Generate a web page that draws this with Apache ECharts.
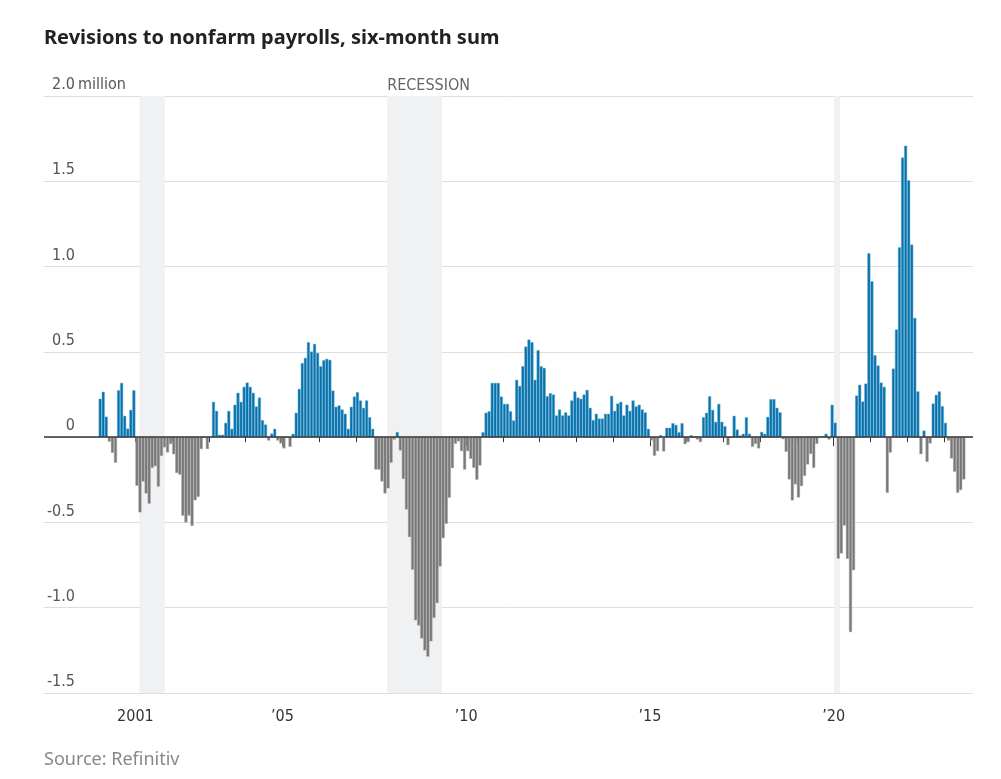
<!DOCTYPE html>
<html>
<head>
<meta charset="utf-8">
<script src="https://cdn.jsdelivr.net/npm/echarts@6/dist/echarts.min.js"></script>
<style>
html, body { margin: 0; padding: 0; background: #fff; }
#chart { width: 1001px; height: 779px; }
</style>
</head>
<body>
<div id="chart"></div>
<script>
// 数据：从 2000 年 1 月开始的月度值（百万）
var startYear = 2000;
var revisions = [
    0.225, 0.266, 0.12, -0.027, -0.092, -0.15, 0.275, 0.318, 0.125, 0.05, 0.16, 0.275,
    -0.285, -0.441, -0.26, -0.33, -0.39, -0.18, -0.17, -0.29, -0.11, -0.06, -0.09, -0.04,
    -0.1, -0.21, -0.22, -0.46, -0.50, -0.46, -0.52, -0.37, -0.35, -0.07, 0, -0.07,
    0, 0.207, 0.154, 0.014, 0.014, 0.084, 0.154, 0.049, 0.19, 0.26, 0.207, 0.295,
    0.32, 0.295, 0.26, 0.18, 0.232, 0.10, 0.074, -0.02, 0.021, 0.049, -0.02, -0.037,
    -0.066, 0, -0.057, 0.02, 0.143, 0.283, 0.434, 0.465, 0.557, 0.502, 0.547, 0.494,
    0.416, 0.451, 0.459, 0.453, 0.273, 0.178, 0.186, 0.162, 0.137, 0.049, 0.178, 0.238,
    0.264, 0.215, 0.172, 0.215, 0.117, 0.049, -0.19, -0.19, -0.26, -0.33, -0.30, -0.15,
    -0.014, 0.03, -0.078, -0.245, -0.424, -0.586, -0.777, -1.074, -1.104, -1.18, -1.25, -1.287,
    -1.197, -1.06, -0.973, -0.758, -0.592, -0.508, -0.355, -0.182, -0.039, -0.025, -0.082, -0.19,
    -0.082, -0.127, -0.18, -0.25, -0.166, 0.029, 0.143, 0.152, 0.318, 0.318, 0.318, 0.238,
    0.195, 0.195, 0.152, 0.098, 0.336, 0.30, 0.416, 0.531, 0.572, 0.557, 0.336, 0.51,
    0.416, 0.406, 0.24, 0.258, 0.25, 0.127, 0.162, 0.127, 0.145, 0.127, 0.215, 0.268,
    0.232, 0.225, 0.25, 0.277, 0.172, 0.10, 0.137, 0.109, 0.109, 0.137, 0.137, 0.242,
    0.154, 0.197, 0.207, 0.127, 0.19, 0.154, 0.215, 0.18, 0.19, 0.162, 0.145, 0.049,
    -0.02, -0.109, -0.082, 0.012, -0.084, 0.055, 0.055, 0.082, 0.072, 0.029, 0.082, -0.041,
    -0.029, 0.012, 0, -0.014, -0.029, 0.117, 0.143, 0.24, 0.16, 0.09, 0.195, 0.09,
    0.064, -0.047, 0, 0.125, 0.045, 0.01, 0.02, 0.117, 0.02, -0.057, -0.04, -0.066,
    0.031, 0.02, 0.119, 0.223, 0.223, 0.172, 0.146, -0.012, -0.086, -0.248, -0.371, -0.277,
    -0.354, -0.287, -0.227, -0.16, -0.098, -0.18, -0.039, 0, 0.005, 0.02, -0.014, 0.19,
    0.085, -0.713, -0.682, -0.518, -0.713, -1.143, -0.78, 0.244, 0.307, 0.209, 0.314, 1.078,
    0.914, 0.48, 0.42, 0.32, 0.295, -0.326, -0.09, 0.402, 0.631, 1.113, 1.639, 1.709,
    1.506, 1.129, 0.699, 0.268, -0.10, 0.039, -0.145, -0.037, 0.197, 0.248, 0.268, 0.182,
    0.084, -0.02, -0.125, -0.203, -0.326, -0.31, -0.248
];

// 衰退期（以 2000 年 1 月起的月份计）
var recessions = [
    [13.3, 21.6, ''],
    [94.2, 112.1, 'RECESSION'],
    [240.1, 242.1, '']
];

// 年份刻度
var tickYears = [];
for (var y = 2001; y <= 2023; y++) tickYears.push(y);
var majorYears = [2005, 2010, 2015, 2020];
var labelYears = {2001: '2001', 2005: '\u201905', 2010: '\u201910', 2015: '\u201915', 2020: '\u201920'};

var yTickText = {'-1.5': '-1.5', '-1': '-1.0', '-0.5': '-0.5', '0': '0', '0.5': '0.5', '1': '1.0', '1.5': '1.5', '2': '2.0'};

function monthOf (year) {
    return (year - startYear) * 12;
}

var narrowFont = '"Liberation Sans Narrow", "DejaVu Sans Condensed", "Roboto Condensed", sans-serif';

var barData = revisions.map(function (v, i) {
    var pos = v >= 0;
    return {
        value: [i + 0.5, v],
        itemStyle: {
            color: pos ? '#0672ac' : '#777777',
            borderColor: pos ? '#6fb0d6' : '#ababab',
            borderWidth: 0.5
        }
    };
});

var areaData = recessions.map(function (r) {
    return [
        {
            xAxis: r[0],
            label: {
                show: !!r[2],
                formatter: r[2],
                position: [0, -18],
                color: '#666',
                fontSize: 16,
                fontFamily: narrowFont
            }
        },
        {xAxis: r[1]}
    ];
});

var option = {
    animation: false,
    backgroundColor: '#fff',
    title: [
        {
            text: 'Revisions to nonfarm payrolls, six-month sum',
            left: 44,
            top: 28,
            padding: 0,
            textStyle: {fontFamily: '"Noto Sans", sans-serif', fontSize: 20, fontWeight: 'bold', color: '#222'}
        },
        {
            text: 'Source: Refinitiv',
            left: 44,
            top: 751,
            padding: 0,
            textStyle: {fontFamily: '"Noto Sans", sans-serif', fontSize: 18, fontWeight: 'normal', color: '#888'}
        }
    ],
    grid: {left: 44, right: 28, top: 96, bottom: 86},
    xAxis: [
        {
            type: 'value',
            min: -17.845,
            max: 285.5,
            position: 'bottom',
            axisLine: {show: false},
            splitLine: {show: false},
            axisTick: {
                show: true,
                length: 5,
                lineStyle: {color: '#333'},
                customValues: tickYears.map(monthOf)
            },
            axisLabel: {
                customValues: Object.keys(labelYears).map(function (k) { return monthOf(+k); }),
                formatter: function (v) { return labelYears[Math.round(v / 12) + startYear] || ''; },
                margin: 16,
                color: '#333',
                fontSize: 16,
                fontFamily: narrowFont
            }
        },
        {
            type: 'value',
            min: -17.845,
            max: 285.5,
            position: 'bottom',
            axisLine: {show: false},
            splitLine: {show: false},
            axisLabel: {show: false},
            axisTick: {
                show: true,
                length: 9,
                lineStyle: {color: '#333'},
                customValues: majorYears.map(monthOf)
            }
        }
    ],
    yAxis: [
        {
            type: 'value',
            min: -1.5,
            max: 2.0,
            interval: 0.5,
            axisLine: {show: false},
            axisTick: {show: false},
            splitLine: {lineStyle: {color: '#dedede', width: 1}},
            axisLabel: {
                inside: true,
                margin: 31,
                align: 'right',
                verticalAlign: 'bottom',
                padding: [0, 0, 3, 0],
                color: '#555',
                fontSize: 16,
                fontFamily: narrowFont,
                formatter: function (v) { return yTickText[String(v)] || ''; }
            }
        },
        {
            type: 'value',
            min: -1.5,
            max: 2.0,
            interval: 0.5,
            position: 'left',
            axisLine: {show: false},
            axisTick: {show: false},
            splitLine: {show: false},
            axisLabel: {
                inside: true,
                margin: 34,
                align: 'left',
                verticalAlign: 'bottom',
                padding: [0, 0, 3, 0],
                color: '#555',
                fontSize: 16,
                fontFamily: narrowFont,
                formatter: function (v) { return v === 2 ? 'million' : ''; }
            }
        }
    ],
    series: [
        {
            type: 'bar',
            xAxisIndex: 0,
            yAxisIndex: 0,
            barWidth: 3.06,
            data: barData,
            markArea: {
                silent: true,
                itemStyle: {color: '#f0f1f3'},
                data: areaData
            },
            markLine: {
                silent: true,
                symbol: 'none',
                label: {show: false},
                lineStyle: {color: '#333', width: 1.5, type: 'solid'},
                data: [{yAxis: 0}]
            }
        }
    ]
};

var chart = echarts.init(document.getElementById('chart'));
chart.setOption(option);
</script>
</body>
</html>
